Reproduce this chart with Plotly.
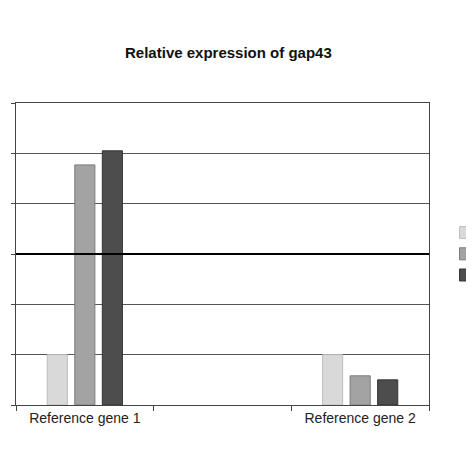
import plotly.graph_objects as go

categories = ["Reference gene 1", " ", "Reference gene 2"]
series_names = ["6", "12", "18"]
values_6 = [1.0, None, 1.0]
values_12 = [4.77, None, 0.58]
values_18 = [5.05, None, 0.5]
colors = ["#d9d9d9", "#a3a3a3", "#4d4d4d"]
borders = ["#bdbdbd", "#7a7a7a", "#333333"]

fig = go.Figure()
for name, vals, c, b in zip(series_names, [values_6, values_12, values_18], colors, borders):
    fig.add_trace(go.Bar(x=categories, y=vals, name=name,
                         marker=dict(color=c, line=dict(color=b, width=1))))

fig.update_layout(
    width=474, height=474,
    margin=dict(l=8, r=53, t=95, b=77, autoexpand=False),
    title=dict(text="<b>Relative expression of gap43</b>", x=0.465, y=0.905,
               xanchor="center", yanchor="middle",
               font=dict(family="Liberation Sans", size=15, color="#111")),
    plot_bgcolor="white", paper_bgcolor="white",
    barmode="group", bargap=0.4, bargroupgap=0.27,
    font=dict(family="Liberation Sans", size=14, color="#222"),
    legend=dict(x=1.04, y=0.5, yanchor="middle", xanchor="left",
                font=dict(size=14), itemwidth=30, tracegroupgap=4),
    showlegend=True,
)
fig.update_xaxes(type="category", categoryarray=categories, showline=True, linecolor="#444",
                 mirror=True, ticks="outside", ticklen=5, tickcolor="#444",
                 tickson="boundaries", showgrid=False)
fig.update_yaxes(range=[0, 6], dtick=1, showgrid=True, gridcolor="#555", gridwidth=1,
                 showline=True, linecolor="#444", mirror=True, showticklabels=False,
                 ticks="outside", ticklen=4, tickcolor="#444", zeroline=False)
fig.add_hline(y=3, line=dict(color="#000", width=2))
fig.add_shape(type="rect", xref="paper", yref="paper", x0=-0.05, x1=1.2, y0=-0.245, y1=-0.27,
              fillcolor="#e4e6e8", line=dict(width=0), layer="below")
fig.write_html("out.html")
